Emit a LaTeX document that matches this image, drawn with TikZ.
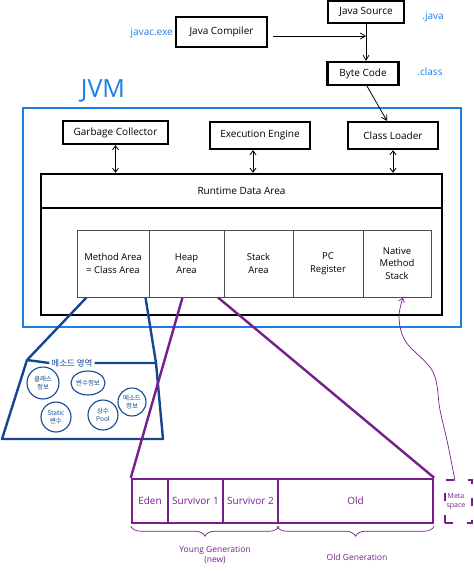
\documentclass[tikz,border=0pt]{standalone}
\usepackage{fontspec}
\setmainfont{Open Sans}
\newfontfamily\kr{Noto Sans CJK KR}
\usetikzlibrary{arrows.meta,decorations.pathreplacing,shapes.geometric}
\definecolor{jblue}{RGB}{30,125,230}
\definecolor{dblue}{RGB}{20,70,145}
\definecolor{purp}{RGB}{120,30,140}
\begin{document}
\begin{tikzpicture}[x=1pt,y=-1pt,
  blk/.style={draw=black,line width=2.2pt,inner sep=0pt,font=\fontsize{10}{12}\selectfont},
  bluetxt/.style={text=jblue,font=\fontsize{10}{12}\selectfont,inner sep=1pt},
  cell/.style={draw=black!70,line width=1pt,inner sep=0pt,minimum height=67pt,align=center,font=\fontsize{9.5}{12.5}\selectfont},
  hcell/.style={draw=purp,line width=2.4pt,inner sep=0pt,minimum height=44pt,text=purp,font=\fontsize{10}{12}\selectfont},
  arr/.style={-{Straight Barb[length=5pt,width=6pt]},line width=0.8pt},
  darr/.style={{Straight Barb[length=4pt,width=6pt]}-{Straight Barb[length=4pt,width=6pt]},line width=0.8pt},
  bl/.style={draw=dblue,line width=2.4pt},
  pl/.style={draw=purp,line width=2.4pt},
  thinp/.style={draw=purp,line width=0.7pt},
  bub/.style={draw=dblue,line width=1.1pt,circle,inner sep=0pt,align=center,text=dblue,font=\kr\fontsize{6.5}{7.5}\selectfont},
  ptxt/.style={text=purp,font=\fontsize{8.5}{9.5}\selectfont,inner sep=1pt,align=center}]
\useasboundingbox (0,0) rectangle (474,571);
% top
\node[blk,minimum width=76pt,minimum height=22pt] (src) at (366,12) {Java Source};
\node[blk,minimum width=91pt,minimum height=30pt] (comp) at (221.5,32) {Java Compiler};
\node[blk,minimum width=71pt,minimum height=23pt] (bc) at (363,73.5) {Byte Code};
\node[bluetxt,anchor=east] (javac) at (174,33) {javac.exe};
\node[bluetxt] (dj) at (433,17) {.java};
\node[bluetxt] (dc) at (430,72) {.class};
\coordinate (j) at (366,36);
\coordinate (c0) at (273,36);
\draw[arr] (c0) -- (j);
\draw[arr] (src.south) -- (src.south |- bc.north);
% JVM
\node[text=jblue,font=\fontsize{25}{25}\selectfont,inner sep=0pt] (jvmt) at (103,91) {JVM};
\node[draw=jblue,line width=2.5pt,minimum width=438pt,minimum height=219pt,inner sep=0pt] (jvm) at (242,217.5) {};
\node[blk,minimum width=105pt,minimum height=23pt] (gc) at (115.5,132.5) {Garbage Collector};
\node[blk,minimum width=100pt,minimum height=27pt] (ee) at (260,135.5) {Execution Engine};
\node[blk,minimum width=90pt,minimum height=27pt] (cl) at (393,135.5) {Class Loader};
\draw[arr] ([xshift=4pt]bc.south) -- ([xshift=-6pt]cl.north);
\node[draw,line width=2.5pt,minimum width=401pt,minimum height=141pt,inner sep=0pt] (rda) at (241.5,244.5) {};
\node[draw,line width=2.5pt,minimum width=401pt,minimum height=34pt,inner sep=0pt,font=\fontsize{10}{12}\selectfont] (rdh) at (241.5,191) {Runtime Data Area};
\draw[darr] (gc.south) -- (gc.south |- rdh.north);
\draw[darr] ([xshift=-7pt]ee.south) -- ([xshift=-7pt]ee.south |- rdh.north);
\draw[darr] (cl.south) -- (cl.south |- rdh.north);
% cells
\node[cell,minimum width=72pt] (ma) at (113,263.5) {Method Area\\= Class Area};
\node[cell,minimum width=75pt] (ha) at (186.5,263.5) {Heap\\Area};
\node[cell,minimum width=69pt] (sa) at (258.5,263.5) {Stack\\Area};
\node[cell,minimum width=70pt] (pc) at (328,263.5) {PC\\Register};
\node[cell,minimum width=68pt] (nm) at (397,263.5) {Native\\Method\\Stack};
% method area detail
\coordinate (t1) at (27,360);
\coordinate (t2) at (156,363);
\coordinate (b1) at (2,439);
\coordinate (b2) at (163,439);
\node[text=dblue,font=\kr\fontsize{8.5}{9}\selectfont,inner sep=2pt] (mlab) at (72,363) {메소드 영역};
\draw[bl] ([xshift=10pt]ma.south west) -- (t1);
\draw[bl] ([xshift=-4pt]ma.south east) -- (t2);
\draw[bl,line join=round] (mlab.west) -- (t1) -- (b1) -- (b2) -- (t2) -- (mlab.east);
\node[bub,minimum size=32pt] (ci) at (43,383) {클래스\\정보};
\node[bub,ellipse,minimum width=34pt,minimum height=24pt] (vi) at (88,383) {변수정보};
\node[bub,minimum size=28pt] (mi) at (132,402) {메소드\\정보};
\node[bub,minimum size=30pt] (sv) at (56,417) {Static\\변수};
\node[bub,minimum size=30pt] (cp) at (103,415) {상수\\Pool};
% heap detail
\node[hcell,minimum width=36pt] (eden) at (150,501) {Eden};
\node[hcell,minimum width=55pt] (s1) at (195.5,501) {Survivor 1};
\node[hcell,minimum width=55pt] (s2) at (250.5,501) {Survivor 2};
\node[hcell,minimum width=155pt] (old) at (355.5,501) {Old};
\draw[pl] ([xshift=-4pt]ha.south) -- (eden.north west);
\draw[pl] ([xshift=31.5pt]ha.south) -- (old.north east);
\node[draw=purp,line width=2.4pt,dash pattern=on 8pt off 14pt,minimum width=27pt,minimum height=43pt,inner sep=0pt] (meta) at (458.5,501.5) {};
\node[ptxt,font=\fontsize{7}{9}\selectfont] (mt) at (456,501) {Meta\\space};
\coordinate (ms) at (455,481);
\coordinate (k1) at (448,445);
\coordinate (k2) at (440,410);
\coordinate (k3) at (433,372);
\coordinate (k4) at (406,342);
\coordinate (k5) at (399,318);
\coordinate (nmb) at ([xshift=6pt]nm.south);
\draw[thinp,-{Straight Barb[length=4pt,width=6pt]}] plot[smooth,tension=0.6] coordinates {(ms) (k1) (k2) (k3) (k4) (k5) (nmb)};
\draw[thinp,decorate,decoration={brace,mirror,amplitude=10pt}] ([yshift=-2pt]eden.south west) -- ([yshift=-2pt]s2.south east);
\draw[thinp,decorate,decoration={brace,mirror,amplitude=10pt}] ([yshift=-2pt]old.south west) -- ([yshift=-2pt]old.south east);
\node[ptxt] (yg) at (215,555) {Young Generation\\(new)};
\node[ptxt] (og) at (357,557) {Old Generation};
\end{tikzpicture}
\end{document}
